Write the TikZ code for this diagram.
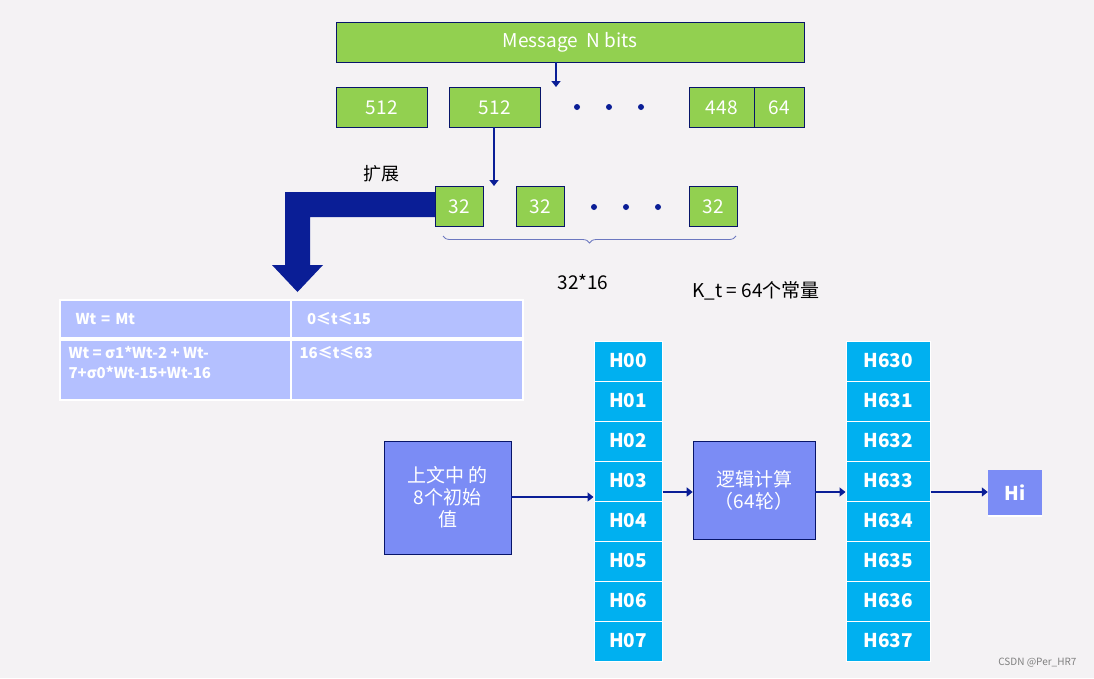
\documentclass[tikz,border=0pt]{standalone}
\usepackage{fontspec}
\setmainfont{Noto Sans CJK SC}
\usetikzlibrary{decorations.pathreplacing}
\definecolor{bg}{HTML}{F4F2F4}
\definecolor{grn}{HTML}{92D050}
\definecolor{navy}{HTML}{0A1E96}
\definecolor{cyanb}{HTML}{00B0F0}
\definecolor{purp}{HTML}{7B8CF5}
\definecolor{lav}{HTML}{B4C0FF}
\begin{document}
\begin{tikzpicture}[x=1pt,y=-1pt,
 gb/.style={draw=navy!70!black,line width=0.6pt,fill=grn,text=white,font=\fontsize{19}{20}\selectfont,anchor=north west,inner sep=0pt},
 hb/.style={draw=white,line width=1pt,fill=cyanb,text=white,font=\bfseries\fontsize{19}{20}\selectfont,minimum height=40pt,inner sep=0pt},
 pb/.style={draw=navy!70!black,line width=0.6pt,fill=purp,text=white,font=\fontsize{19}{22}\selectfont,align=center,inner sep=0pt},
 arr/.style={navy,line width=2.5pt,-{Triangle[length=6pt,width=9pt]}},
 dot/.style={circle,fill=navy,inner sep=0pt,minimum size=6pt},
 tc/.style={fill=lav,draw=white,line width=2pt,text=white,font=\bfseries\fontsize{15}{18}\selectfont,anchor=north west,align=left,inner sep=0pt}]
\usetikzlibrary{arrows.meta}
\fill[bg] (0,0) rectangle (1094,678);
\useasboundingbox (0,0) rectangle (1094,678);
% row 1
\node[gb,minimum width=468pt,minimum height=40pt] (msg) at (336,22) {Message\ \ N bits};
\node[gb,minimum width=91pt,minimum height=40pt] (a1) at (336,87) {512};
\node[gb,minimum width=91pt,minimum height=40pt] (a2) at (449,87) {512};
\node[gb,minimum width=65pt,minimum height=40pt] (a3) at (689,87) {448};
\node[gb,minimum width=50pt,minimum height=40pt] (a4) at (754,87) {64};
\node[dot] (d1) at (577,107) {};\node[dot] (d2) at (609,107) {};\node[dot] (d3) at (641,107) {};
\draw[arr] (556,62) -- (556,87);
% row 3
\node[gb,minimum width=48pt,minimum height=40pt] (b1) at (435,186) {32};
\node[gb,minimum width=48pt,minimum height=40pt] (b2) at (516,186) {32};
\node[gb,minimum width=48pt,minimum height=40pt] (b3) at (689,186) {32};
\node[dot] (e1) at (594,207) {};\node[dot] (e2) at (626,207) {};\node[dot] (e3) at (658,207) {};
\draw[arr] (494,127) -- (494,186);
\node[font=\fontsize{18}{20}\selectfont] (kz) at (381,174) {扩展};
\draw[navy!60,line width=0.8pt,decorate,decoration={brace,mirror,amplitude=7pt}] (443,236) -- (736,236);
\node[font=\fontsize{19}{20}\selectfont] (n16) at (583,282) {32*16};
\node[font=\fontsize{19}{20}\selectfont] (kt) at (756,291) {K\_t = 64个常量};
% big L arrow
\fill[navy] (435,192) -- (285,192) -- (285,265) -- (272,265) -- (297.5,292) -- (323,265) -- (310,265) -- (310,217) -- (435,217) -- cycle;
% table
\node[tc,minimum width=231pt,minimum height=38pt,text width=220pt] (t11) at (59,299) {\ \ Wt = Mt};
\node[tc,minimum width=232pt,minimum height=38pt,text width=220pt] (t12) at (290,299) {\ \ 0≤t≤15};
\node[tc,minimum width=231pt,minimum height=60pt,text width=220pt,anchor=north west] (t21) at (59,339) {};
\node[tc,minimum width=232pt,minimum height=60pt] (t22) at (290,339) {};
\node[anchor=north west,text=white,font=\bfseries\fontsize{15}{20}\selectfont,align=left] (f1) at (65,343) {Wt = σ1*Wt-2 + Wt-\\7+σ0*Wt-15+Wt-16};
\node[anchor=north west,text=white,font=\bfseries\fontsize{15}{20}\selectfont] (f2) at (296,343) {16≤t≤63};
% initial box
\node[pb,minimum width=127pt,minimum height=113pt] (init) at (447.5,497.5) {上文中 的\\8个初始\\值};
\foreach \i in {0,...,7}{
 \node[hb,minimum width=68pt] (h\i) at (628,{361+40*\i}) {H0\i};
 \node[hb,minimum width=84pt] (g\i) at (888,{361+40*\i}) {H63\i};
}
\node[pb,minimum width=122pt,minimum height=98pt] (logic) at (754,490) {逻辑计算\\（64轮）};
\node[fill=purp,text=white,font=\bfseries\fontsize{19}{20}\selectfont,minimum width=54pt,minimum height=46pt,inner sep=0pt] (hi) at (1015,493) {Hi};
\draw[white,line width=1.5pt] (988,516) -- (1042,516);
\draw[arr] (init.east |- 0,497) -- (h3.west |- 0,497);
\draw[arr] (h3.east |- 0,492) -- (logic.west |- 0,492);
\draw[arr] (logic.east |- 0,492) -- (g3.west |- 0,492);
\draw[arr] (g3.east |- 0,492) -- (hi.west |- 0,492);
\node[text=gray,font=\fontsize{10}{12}\selectfont,anchor=east] (wm) at (1080,663) {CSDN @Per\_HR7};
\end{tikzpicture}
\end{document}
